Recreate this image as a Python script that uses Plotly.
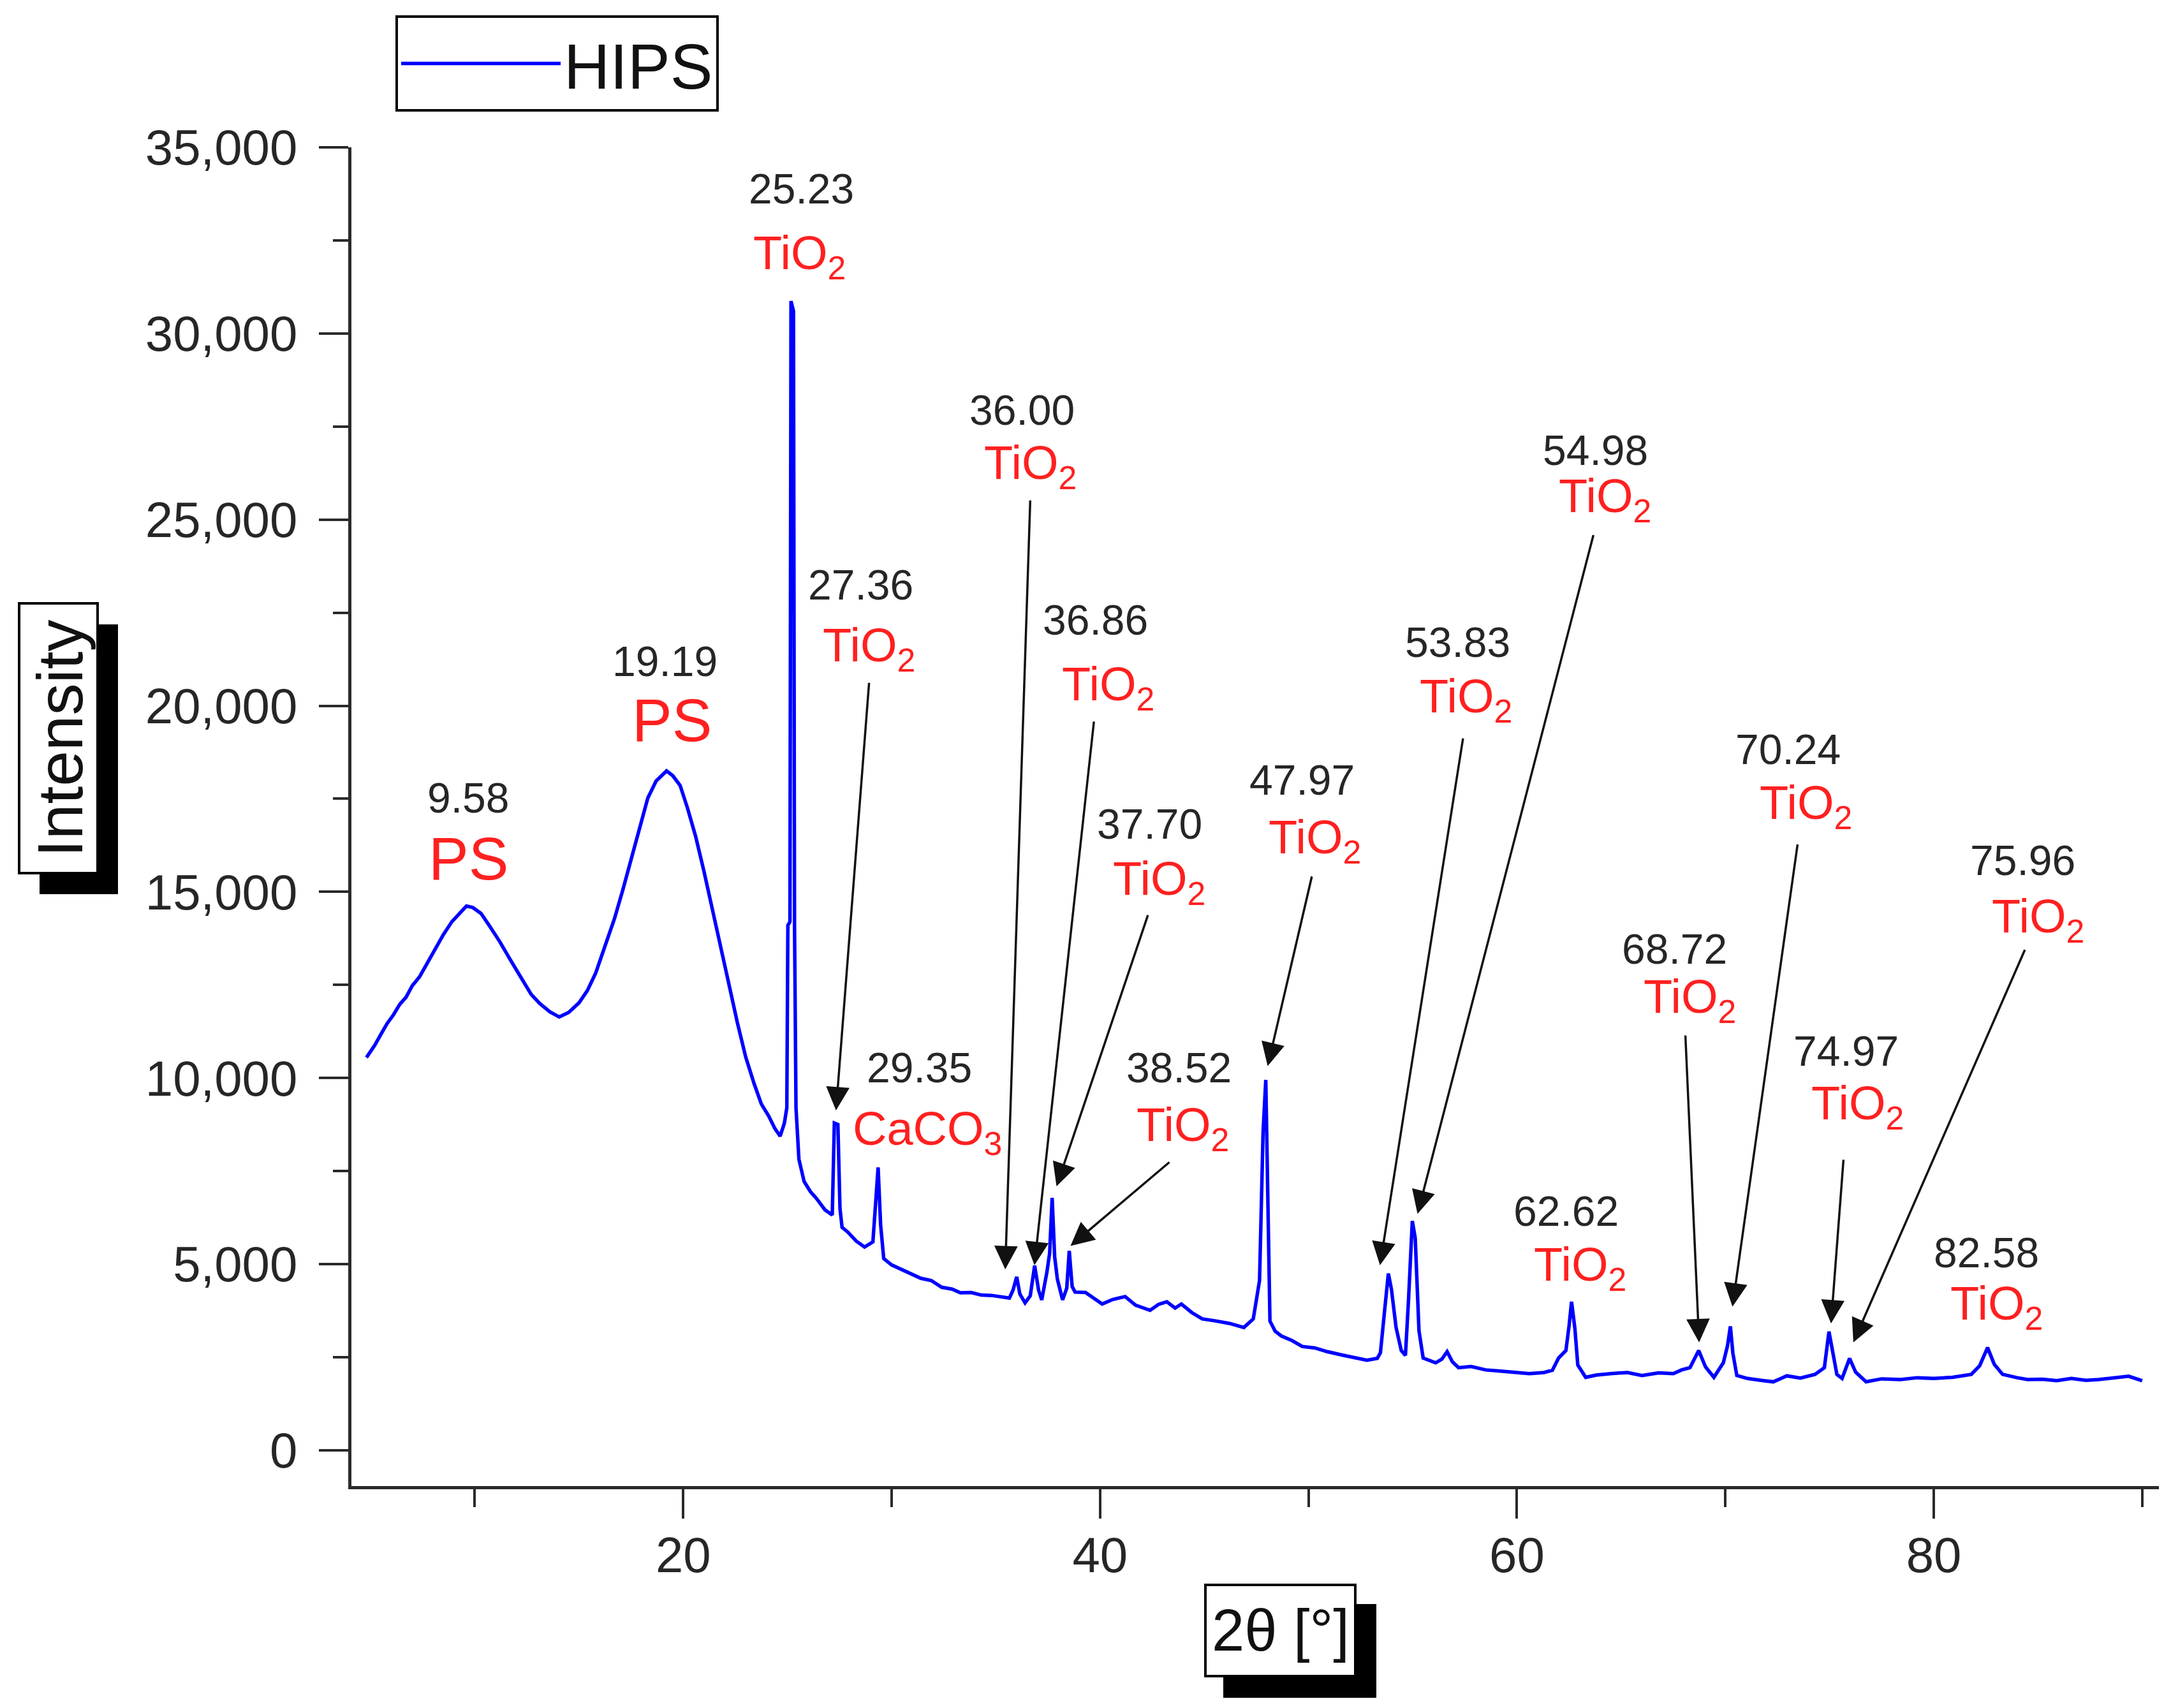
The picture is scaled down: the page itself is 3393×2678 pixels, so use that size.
import plotly.graph_objects as go

# ---------------- data ----------------
two_theta = [4.8, 5.2, 5.5, 5.8, 6.1, 6.4, 6.7, 7.0, 7.35, 7.7, 8.1, 8.5, 8.9, 9.3, 9.6, 9.9,
             10.3, 10.7, 11.2, 11.7, 12.2, 12.7, 13.1, 13.6, 14.05, 14.5, 15.0, 15.4, 15.8, 16.2,
             16.7, 17.1, 17.5, 17.9, 18.3, 18.7, 19.2, 19.5, 19.85, 20.2, 20.6, 21.0, 21.4, 21.8,
             22.2, 22.6, 23.0, 23.4, 23.75, 24.1, 24.4, 24.65, 24.85, 24.97, 25.02, 25.12, 25.17,
             25.29, 25.34, 25.41, 25.55, 25.8, 26.1, 26.4, 26.8, 27.15, 27.25, 27.42, 27.52, 27.62,
             27.9, 28.3, 28.7, 29.1, 29.25, 29.35, 29.47, 29.62, 30.0, 30.4, 30.9, 31.4, 31.9, 32.4,
             32.9, 33.3, 33.8, 34.3, 34.8, 35.3, 35.65, 35.82, 36.0, 36.15, 36.4, 36.65, 36.86,
             37.05, 37.2, 37.45, 37.58, 37.70, 37.82, 37.95, 38.2, 38.4, 38.52, 38.66, 38.8, 39.3,
             39.7, 40.1, 40.6, 41.2, 41.7, 42.1, 42.4, 42.8, 43.2, 43.6, 43.9, 44.4, 44.9, 45.5,
             46.2, 46.9, 47.35, 47.65, 47.82, 47.95, 48.05, 48.15, 48.4, 48.7, 49.2, 49.7, 50.3,
             50.9, 51.6, 52.2, 52.8, 53.3, 53.45, 53.6, 53.83, 53.98, 54.2, 54.45, 54.65, 54.8,
             54.98, 55.12, 55.3, 55.5, 56.1, 56.4, 56.65, 56.9, 57.2, 57.8, 58.5, 59.2, 59.9, 60.6,
             61.3, 61.7, 62.0, 62.35, 62.5, 62.62, 62.78, 62.92, 63.3, 63.8, 64.5, 65.3, 66.0,
             66.8, 67.5, 67.9, 68.3, 68.72, 69.05, 69.45, 69.9, 70.1, 70.24, 70.36, 70.55, 71.06,
             71.7, 72.3, 72.95, 73.6, 74.3, 74.75, 74.97, 75.12, 75.35, 75.6, 75.96, 76.25, 76.75,
             77.5, 78.4, 79.2, 80.0, 80.9, 81.8, 82.2, 82.58, 82.9, 83.3, 84.0, 84.5, 85.2, 85.9,
             86.6, 87.3, 87.9, 88.6, 89.35, 90.0]
intensity = [10550, 10880, 11180, 11470, 11700, 11980, 12170, 12480, 12720, 13060, 13470, 13860,
             14200, 14450, 14620, 14580, 14420, 14090, 13660, 13180, 12700, 12250, 12010, 11780,
             11640, 11760, 12020, 12350, 12820, 13480, 14280, 15050, 15880, 16730, 17520, 17980,
             18250, 18120, 17860, 17260, 16480, 15540, 14560, 13540, 12500, 11480, 10560, 9850,
             9300, 8980, 8640, 8440, 8780, 9200, 14100, 14200, 30870, 30600, 14100, 9200, 7820,
             7220, 6950, 6760, 6460, 6320, 8790, 8750, 6500, 5990, 5860, 5620, 5460, 5600, 6900,
             7600, 6060, 5150, 4980, 4880, 4740, 4620, 4560, 4380, 4330, 4230, 4240, 4170, 4160,
             4120, 4090, 4300, 4660, 4200, 3960, 4150, 4960, 4300, 4040, 4790, 5300, 6780, 5200,
             4600, 4040, 4350, 5360, 4400, 4250, 4240, 4080, 3930, 4050, 4130, 3900, 3820, 3760,
             3920, 3990, 3820, 3930, 3700, 3530, 3480, 3410, 3300, 3530, 4560, 8550, 9950, 5930,
             3470, 3200, 3070, 2950, 2790, 2750, 2650, 2560, 2480, 2420, 2470, 2620, 3470, 4750,
             4320, 3300, 2680, 2550, 4060, 6160, 5700, 3210, 2480, 2350, 2450, 2650, 2380, 2220,
             2250, 2160, 2130, 2090, 2060, 2090, 2150, 2480, 2680, 3340, 3990, 3270, 2290, 1960,
             2020, 2060, 2090, 2010, 2080, 2060, 2160, 2220, 2680, 2240, 1960, 2350, 2800, 3330,
             2610, 2010, 1930, 1880, 1840, 2000, 1940, 2040, 2220, 3190, 2730, 2040, 1930, 2470,
             2100, 1840, 1920, 1900, 1950, 1930, 1960, 2040, 2270, 2760, 2310, 2040, 1950, 1900,
             1910, 1870, 1930, 1880, 1900, 1950, 1990, 1870]

# peak labels: value text, phase text, positions of both texts (data coords)
peak_values = ["9.58", "19.19", "25.23", "27.36", "29.35", "36.00", "36.86", "37.70", "38.52",
               "47.97", "53.83", "54.98", "62.62", "68.72", "70.24", "74.97", "75.96", "82.58"]
peak_phases = ["PS", "PS", "TiO2", "TiO2", "CaCO3", "TiO2", "TiO2", "TiO2", "TiO2",
               "TiO2", "TiO2", "TiO2", "TiO2", "TiO2", "TiO2", "TiO2", "TiO2", "TiO2"]
value_x = [9.68, 19.13, 25.66, 28.52, 31.32, 36.25, 39.78, 42.37, 43.77,
           49.70, 57.16, 63.75, 62.35, 67.55, 73.01, 75.80, 84.26, 82.53]
value_y = [17520, 21200, 33890, 23240, 10280, 27950, 22310, 16820, 10280,
           18000, 21710, 26870, 6420, 13470, 18820, 10730, 15850, 5310]
phase_x = [9.68, 19.47, 25.59, 28.92, 31.72, 36.65, 40.38, 42.84, 43.97,
           50.30, 57.56, 64.22, 63.02, 68.28, 73.87, 76.34, 85.00, 83.00]
phase_y = [15890, 19600, 32070, 21530, 8540, 26430, 20490, 15260, 8650,
           16370, 20160, 25540, 4900, 12100, 17300, 9240, 14250, 3860]

# arrows: tail (label side) -> head (peak)
arrow_tail_x = [28.92, 36.65, 39.71, 42.31, 43.37, 50.17, 57.42, 63.68, 68.08, 73.47, 75.67, 84.39]
arrow_tail_y = [20640, 25540, 19600, 14400, 7760, 15440, 19150, 24610, 11170, 16300, 7830, 13470]
arrow_head_x = [27.33, 35.45, 36.85, 37.91, 38.58, 48.04, 53.43, 55.23, 68.74, 70.34, 75.07, 76.14]
arrow_head_y = [9130, 4860, 4970, 7090, 5490, 10320, 4970, 6350, 2900, 3860, 3410, 2900]

x_range = [4.08, 90.8]
y_range = [-960, 35000]

# ---------------- figure ----------------
W, H = 3393, 2678
L, R, T, B = 543, 16, 223, 356
PW, PH = W - L - R, H - T - B

def px(xp):
    return (xp - L) / PW

def py(yp):
    return (H - B - yp) / PH

FONT = "Liberation Sans, Arial, sans-serif"
DARK = "#262626"
RED = "#ff2020"

fig = go.Figure()
fig.add_trace(go.Scatter(x=two_theta, y=intensity, mode="lines", name="HIPS",
                         line=dict(color="#0000ff", width=5.5)))


def phase_text(p):
    if p == "TiO2":
        return "TiO<sub>2</sub>"
    if p == "CaCO3":
        return "CaCO<sub>3</sub>"
    return p


annotations = []
for v, p, vx, vy, qx, qy in zip(peak_values, peak_phases, value_x, value_y, phase_x, phase_y):
    annotations.append(dict(x=vx, y=vy, xref="x", yref="y", text=v, showarrow=False,
                            font=dict(family=FONT, size=66, color=DARK)))
    annotations.append(dict(x=qx, y=qy, xref="x", yref="y", text=phase_text(p), showarrow=False,
                            font=dict(family=FONT, size=(94 if p == "PS" else 74), color=RED)))

for tx, ty, hx, hy in zip(arrow_tail_x, arrow_tail_y, arrow_head_x, arrow_head_y):
    annotations.append(dict(x=hx, y=hy, ax=tx, ay=ty, xref="x", yref="y", axref="x", ayref="y",
                            text="", showarrow=True, arrowhead=2, arrowsize=2.1, arrowwidth=3.5,
                            arrowcolor="#111111"))

# axis titles (boxed, with drop shadow)
annotations.append(dict(x=px(86), y=py(1150), xref="paper", yref="paper", text="Intensity",
                        textangle=-90, showarrow=False, xanchor="center", yanchor="middle",
                        font=dict(family=FONT, size=100, color="#111111")))
annotations.append(dict(x=px(2000), y=py(2548), xref="paper", yref="paper", text="2θ [°]",
                        showarrow=False, xanchor="center", yanchor="middle",
                        font=dict(family=FONT, size=92, color="#111111")))

shapes = [
    dict(type="rect", xref="paper", yref="paper", x0=px(54), x1=px(177), y0=py(971), y1=py(1394),
         fillcolor="black", line=dict(width=0), layer="above"),
    dict(type="rect", xref="paper", yref="paper", x0=px(22), x1=px(145), y0=py(938), y1=py(1361),
         fillcolor="white", line=dict(color="black", width=4), layer="above"),
    dict(type="rect", xref="paper", yref="paper", x0=px(1910), x1=px(2150), y0=py(2507), y1=py(2654),
         fillcolor="black", line=dict(width=0), layer="above"),
    dict(type="rect", xref="paper", yref="paper", x0=px(1882), x1=px(2117), y0=py(2477), y1=py(2620),
         fillcolor="white", line=dict(color="black", width=4), layer="above"),
]

axis_common = dict(showgrid=False, zeroline=False, showline=True, linecolor="#2a2a2a", linewidth=5,
                   ticks="outside", ticklen=46, tickwidth=4, tickcolor="#2a2a2a",
                   tickfont=dict(family=FONT, size=78, color=DARK), mirror=False)

fig.update_layout(
    width=W, height=H,
    margin=dict(l=L, r=R, t=T, b=B, pad=0),
    paper_bgcolor="white", plot_bgcolor="white",
    showlegend=True,
    legend=dict(x=px(612), y=py(16), xanchor="left", yanchor="top",
                bordercolor="black", borderwidth=4, bgcolor="white",
                font=dict(family=FONT, size=100, color="#111111"),
                itemwidth=250, tracegroupgap=0),
    xaxis=dict(range=x_range, tick0=0, dtick=20, ticklabelstandoff=-10,
               minor=dict(ticks="outside", ticklen=28, tickwidth=4, tickcolor="#2a2a2a", dtick=10),
               **axis_common),
    yaxis=dict(range=y_range, tick0=0, dtick=5000, tickformat=",d", ticklabelstandoff=18,
               minor=dict(ticks="outside", ticklen=24, tickwidth=4, tickcolor="#2a2a2a", dtick=2500),
               **axis_common),
    annotations=annotations,
    shapes=shapes,
)

fig.write_html("out.html")
